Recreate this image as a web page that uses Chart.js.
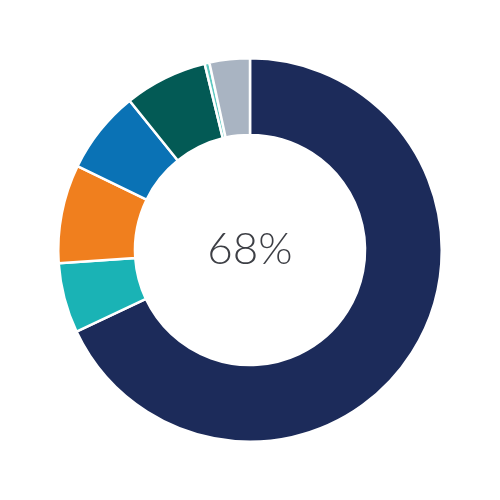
<!DOCTYPE html>
<html><head><script src="https://cdn.jsdelivr.net/npm/chart.js"></script>
<style>html,body{margin:0;background:#fff}#w{width:500px;height:500px;position:relative}</style></head>
<body><div id="w"><canvas id="c"></canvas></div>
<script>
const categories=["A","B","C","D","E","F","G"];
const values=[68,5.9,8.3,7,7,0.4,3.4];
const colors=["#1c2b5a","#1ab3b5","#f07f1e","#0a72b5","#035a55","#5ec8c0","#a9b4c2"];
const centerLabel="68%";
const centerText={id:"ct",afterDraw(ch){const c=ch.ctx,a=ch.chartArea;c.save();c.font="300 44px Lato";c.fillStyle="#3d3f45";c.textAlign="center";c.textBaseline="middle";c.fillText(centerLabel,(a.left+a.right)/2,(a.top+a.bottom)/2);c.restore();}};
new Chart(document.getElementById("c"),{type:"doughnut",data:{labels:categories,datasets:[{data:values,backgroundColor:colors,borderColor:"#fff",borderWidth:2.5}]},
options:{responsive:true,maintainAspectRatio:false,animation:false,cutout:"60%",layout:{padding:57},plugins:{legend:{display:false},tooltip:{enabled:false}}},plugins:[centerText]});
</script></body></html>
